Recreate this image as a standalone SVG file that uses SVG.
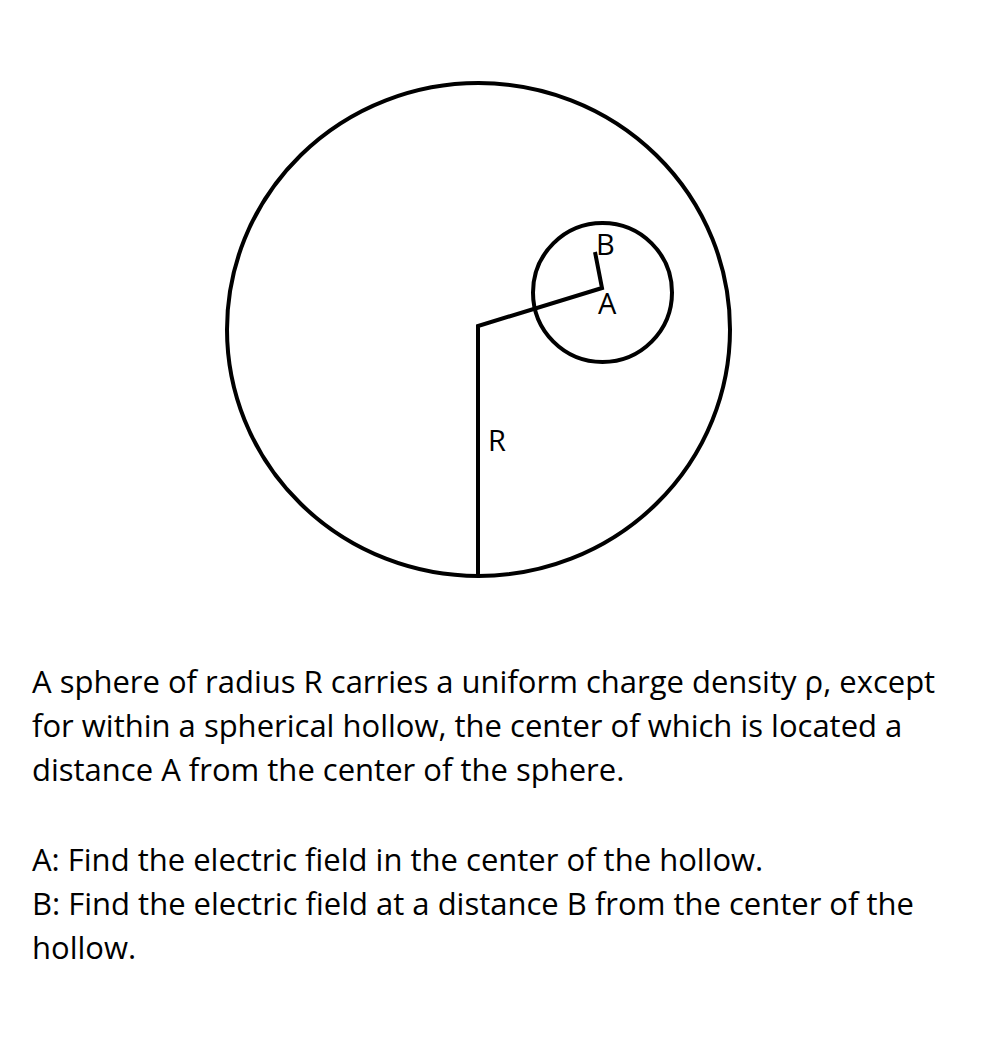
<svg xmlns="http://www.w3.org/2000/svg" width="986" height="1037" viewBox="0 0 986 1037">
<style>.s{fill:none;stroke:#000;stroke-width:4}.t{font-family:"Open Sans","Liberation Sans",sans-serif;font-size:31px;fill:#000}.l{font-family:"Open Sans","Liberation Sans",sans-serif;font-size:29px;fill:#000}</style>
<rect width="986" height="1037" fill="#fff"/>
<g id="sphere"><ellipse class="s" cx="478.5" cy="329.5" rx="251.5" ry="246.5"/></g>
<g id="hollow"><circle class="s" cx="602.5" cy="292.5" r="69.5"/></g>
<g id="connectors">
<polyline class="s" points="478,576 478,326 602,288 595,252"/>
</g>
<g id="labels">
<text class="l" x="488" y="451">R</text>
<text class="l" x="598" y="314">A</text>
<text class="l" x="596" y="255">B</text>
</g>
<g id="text" class="t">
<text x="32" y="693">A sphere of radius R carries a uniform charge density ρ, except</text>
<text x="32" y="737">for within a spherical hollow, the center of which is located a</text>
<text x="32" y="781">distance A from the center of the sphere.</text>
<text x="32" y="871">A: Find the electric field in the center of the hollow.</text>
<text x="32" y="915">B: Find the electric field at a distance B from the center of the</text>
<text x="32" y="959">hollow.</text>
</g>
</svg>
